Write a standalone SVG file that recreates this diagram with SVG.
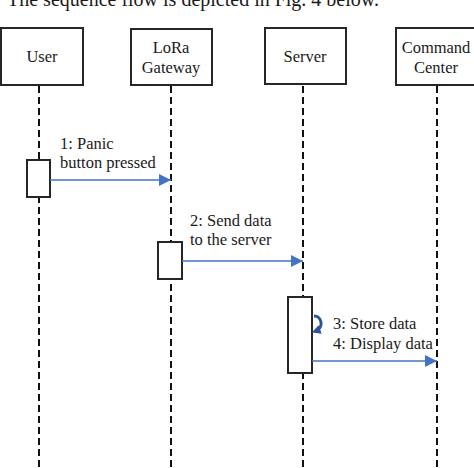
<svg xmlns="http://www.w3.org/2000/svg" width="474" height="468" viewBox="0 0 474 468">
<style>
  text { font-family: "Liberation Serif", "Times New Roman", serif; fill: #1a1a1a; }
  .box { fill: #fff; stroke: #262626; stroke-width: 2; }
  .lbl { font-size: 16.5px; text-anchor: middle; }
  .msg { font-size: 16.5px; }
  .life { stroke: #111; stroke-width: 2; stroke-dasharray: 7 4; fill: none; }
  .arr { stroke: #4472C4; stroke-width: 1.6; fill: none; marker-end: url(#ah); }
</style>
<defs>
  <marker id="ah" viewBox="0 0 12 12" refX="12" refY="6" markerWidth="12" markerHeight="12" markerUnits="userSpaceOnUse" orient="auto">
    <path d="M0,0 L12,6 L0,12 z" fill="#4472C4"/>
  </marker>
  <marker id="ah2" viewBox="0 0 10 10" refX="5" refY="5" markerWidth="9" markerHeight="9" markerUnits="userSpaceOnUse" orient="auto">
    <path d="M0,0 L10,5 L0,10 z" fill="#2F5597"/>
  </marker>
</defs>
<text x="7" y="6" style="font-size:20px">The sequence flow is depicted in Fig. 4 below.</text>
<g id="lifelines">
  <line class="life" x1="39" y1="86" x2="39" y2="468"/>
  <line class="life" x1="171" y1="86" x2="171" y2="468"/>
  <line class="life" x1="303" y1="86" x2="303" y2="468"/>
  <line class="life" x1="437" y1="86" x2="437" y2="468"/>
</g>
<g id="user"><rect class="box" x="1" y="28" width="82" height="57"/><text class="lbl" x="42" y="62">User</text></g>
<g id="gateway"><rect class="box" x="131" y="29" width="81" height="56"/><text class="lbl" x="171" y="53">LoRa</text><text class="lbl" x="171" y="73">Gateway</text></g>
<g id="server"><rect class="box" x="265" y="28" width="81" height="56"/><text class="lbl" x="305" y="62">Server</text></g>
<g id="command"><rect class="box" x="396" y="28" width="82" height="57"/><text class="lbl" x="436" y="53">Command</text><text class="lbl" x="436" y="73">Center</text></g>
<g id="activations">
  <rect class="box" x="27" y="160" width="23" height="37"/>
  <rect class="box" x="158" y="242" width="24" height="37"/>
  <rect class="box" x="288" y="297" width="24" height="76"/>
</g>
<g id="connectors">
  <line class="arr" x1="50" y1="180" x2="171" y2="180"/>
  <line class="arr" x1="182" y1="261" x2="303" y2="261"/>
  <path d="M314,316 C322,316 324,328 316,331" stroke="#2F5597" stroke-width="3" fill="none" marker-end="url(#ah2)"/>
  <line class="arr" x1="312" y1="361" x2="437" y2="361"/>
</g>
<g id="labels">
  <text class="msg" x="60" y="149">1: Panic</text>
  <text class="msg" x="60" y="168">button pressed</text>
  <text class="msg" x="190" y="226">2: Send data</text>
  <text class="msg" x="190" y="245">to the server</text>
  <text class="msg" x="333" y="329">3: Store data</text>
  <text class="msg" x="333" y="349">4: Display data</text>
</g>
</svg>
